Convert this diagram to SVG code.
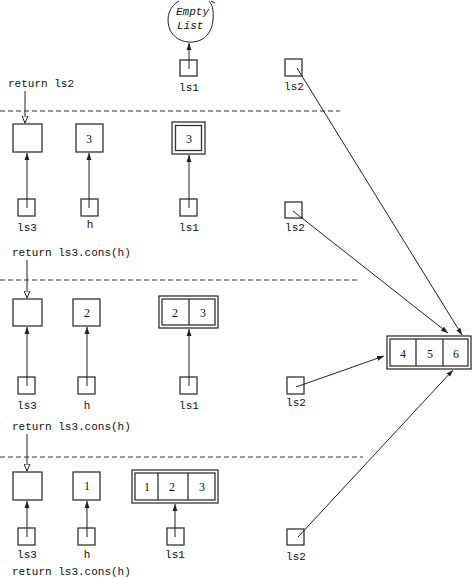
<svg xmlns="http://www.w3.org/2000/svg" width="474" height="579" viewBox="0 0 474 579">
<defs>
<style>
.bg{fill:#fff}
.box{fill:none;stroke:#333;stroke-width:1.3}
.dash{stroke:#333;stroke-width:1;stroke-dasharray:5,3;fill:none}
.ln{stroke:#222;stroke-width:1;fill:none}
.arr{stroke:#222;stroke-width:1;fill:none;marker-end:url(#fa)}
.oarr{stroke:#222;stroke-width:1;fill:none;marker-end:url(#oa)}
.t{font-family:"Liberation Mono",monospace;font-size:11px;fill:#111}
.v{font-family:"Liberation Serif",serif;font-size:12px;fill:#111;text-anchor:middle}
.c{text-anchor:middle}
.it{font-style:italic}
</style>
<marker id="fa" markerWidth="7" markerHeight="6" refX="7" refY="3" orient="auto" markerUnits="userSpaceOnUse">
<path d="M0,0.5 L7,3 L0,5.5 z" fill="#222"/>
</marker>
<marker id="oa" markerWidth="8" markerHeight="7" refX="7.5" refY="3.5" orient="auto" markerUnits="userSpaceOnUse">
<path d="M0.5,0.5 L7.5,3.5 L0.5,6.5 z" fill="#fff" stroke="#222" stroke-width="1"/>
</marker>
</defs>
<rect class="bg" x="0" y="0" width="474" height="579"/>

<g id="separators">
<line class="dash" x1="0" y1="111" x2="340" y2="111"/>
<line class="dash" x1="0" y1="280" x2="358" y2="280"/>
<line class="dash" x1="0" y1="457" x2="363" y2="457"/>
</g>

<g id="empty-list">
<path class="ln" d="M179,1 C170,6 166,16 169,27 C172,38 183,43 193,42 C205,41 212,32 213,20 C214,10 212,4 209,1 M211,1 L215,3"/>
<text class="t it" x="176" y="15">Empty</text>
<text class="t it" x="177" y="29">List</text>
</g>

<g id="s0">
<text class="t" x="8" y="87">return ls2</text>
<g id="s0-ls1"><rect class="box" x="180" y="60" width="17" height="16"/><text class="t c" x="189" y="91">ls1</text></g>
<g id="s0-ls2"><rect class="box" x="285" y="59" width="17" height="17"/><text class="t c" x="294" y="90">ls2</text></g>
</g>

<g id="s1">
<g id="s1-ls3v"><rect class="box" x="13" y="124" width="29" height="28"/></g>
<g id="s1-hv"><rect class="box" x="76" y="124" width="27" height="28"/><text class="v" x="89" y="143">3</text></g>
<g id="s1-list"><rect class="box" x="172" y="122" width="33" height="32"/><rect class="box" x="175.5" y="125.5" width="26" height="25"/><text class="v" x="189" y="143">3</text></g>
<g id="s1-ls3"><rect class="box" x="18" y="199" width="17" height="17"/><text class="t c" x="27" y="231">ls3</text></g>
<g id="s1-h"><rect class="box" x="81" y="199" width="17" height="17"/><text class="t c" x="90" y="228">h</text></g>
<g id="s1-ls1"><rect class="box" x="180" y="199" width="17" height="17"/><text class="t c" x="189" y="231">ls1</text></g>
<g id="s1-ls2"><rect class="box" x="285" y="202" width="17" height="16"/><text class="t c" x="295" y="231">ls2</text></g>
<text class="t" x="12" y="256">return ls3.cons(h)</text>
</g>

<g id="s2">
<g id="s2-ls3v"><rect class="box" x="13" y="299" width="29" height="27"/></g>
<g id="s2-hv"><rect class="box" x="73" y="299" width="27" height="27"/><text class="v" x="87" y="317">2</text></g>
<g id="s2-list"><rect class="box" x="159" y="296" width="59" height="32"/><rect class="box" x="162" y="299" width="53" height="26"/><line class="box" x1="189" y1="299" x2="189" y2="325"/><text class="v" x="175" y="317">2</text><text class="v" x="203" y="317">3</text></g>
<g id="s2-ls3"><rect class="box" x="18" y="377" width="17" height="17"/><text class="t c" x="27" y="409">ls3</text></g>
<g id="s2-h"><rect class="box" x="78" y="377" width="17" height="17"/><text class="t c" x="87" y="409">h</text></g>
<g id="s2-ls1"><rect class="box" x="180" y="377" width="17" height="17"/><text class="t c" x="189" y="409">ls1</text></g>
<g id="s2-ls2"><rect class="box" x="287" y="377" width="17" height="17"/><text class="t c" x="296" y="406">ls2</text></g>
<text class="t" x="12" y="430">return ls3.cons(h)</text>
</g>

<g id="s3">
<g id="s3-ls3v"><rect class="box" x="13" y="472" width="29" height="28"/></g>
<g id="s3-hv"><rect class="box" x="73" y="472" width="27" height="28"/><text class="v" x="87" y="490">1</text></g>
<g id="s3-list"><rect class="box" x="132" y="470" width="86" height="33"/><rect class="box" x="135" y="473" width="80" height="27"/><line class="box" x1="158" y1="473" x2="158" y2="500"/><line class="box" x1="188" y1="473" x2="188" y2="500"/><text class="v" x="147" y="491">1</text><text class="v" x="172" y="491">2</text><text class="v" x="202" y="491">3</text></g>
<g id="s3-ls3"><rect class="box" x="18" y="528" width="17" height="17"/><text class="t c" x="27" y="558">ls3</text></g>
<g id="s3-h"><rect class="box" x="78" y="528" width="17" height="17"/><text class="t c" x="87" y="558">h</text></g>
<g id="s3-ls1"><rect class="box" x="167" y="528" width="17" height="17"/><text class="t c" x="175" y="558">ls1</text></g>
<g id="s3-ls2"><rect class="box" x="287" y="529" width="17" height="16"/><text class="t c" x="296" y="560">ls2</text></g>
<text class="t" x="12" y="575">return ls3.cons(h)</text>
</g>

<g id="list456">
<rect class="box" x="387" y="336" width="84" height="33"/>
<rect class="box" x="390" y="339" width="78" height="27"/>
<line class="box" x1="416" y1="339" x2="416" y2="366"/>
<line class="box" x1="443" y1="339" x2="443" y2="366"/>
<text class="v" x="403" y="358">4</text>
<text class="v" x="430" y="358">5</text>
<text class="v" x="456" y="358">6</text>
</g>

<g id="connectors">
<line class="arr" x1="189" y1="69" x2="189" y2="43"/>
<line class="oarr" x1="25" y1="91" x2="25" y2="123"/>
<line class="arr" x1="297" y1="68" x2="462" y2="335"/>
<line class="arr" x1="27" y1="208" x2="27" y2="153"/>
<line class="arr" x1="89" y1="208" x2="89" y2="153"/>
<line class="arr" x1="189" y1="208" x2="189" y2="155"/>
<line class="arr" x1="293" y1="211" x2="448" y2="333"/>
<line class="oarr" x1="27" y1="260" x2="27" y2="298"/>
<line class="arr" x1="27" y1="386" x2="27" y2="327"/>
<line class="arr" x1="87" y1="386" x2="87" y2="327"/>
<line class="arr" x1="189" y1="386" x2="189" y2="329"/>
<line class="arr" x1="296" y1="387" x2="384" y2="356"/>
<line class="oarr" x1="27" y1="434" x2="27" y2="471"/>
<line class="arr" x1="27" y1="537" x2="27" y2="501"/>
<line class="arr" x1="87" y1="537" x2="87" y2="501"/>
<line class="arr" x1="175" y1="537" x2="175" y2="504"/>
<line class="arr" x1="298" y1="537" x2="453" y2="370"/>
</g>
</svg>
